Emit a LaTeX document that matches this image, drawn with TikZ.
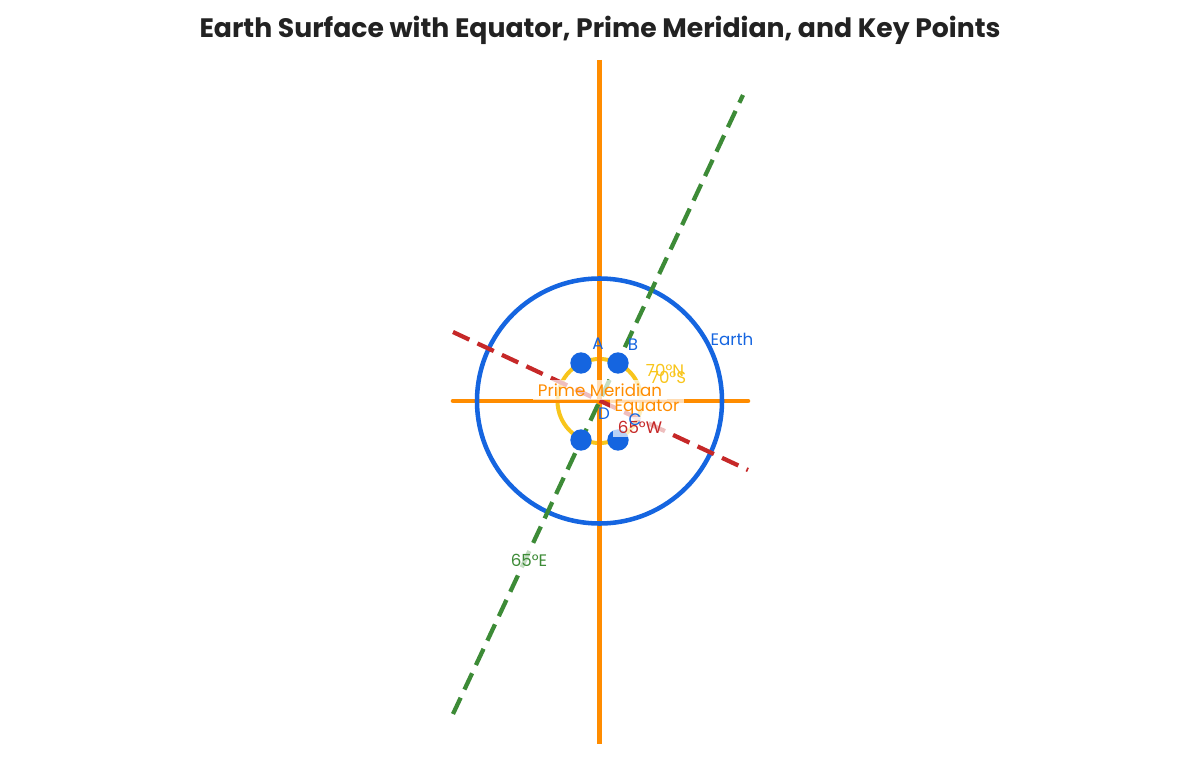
\documentclass[tikz,border=0pt]{standalone}
\usepackage{fontspec}
\setmainfont{Poppins}
\definecolor{orangec}{HTML}{FF8C00}
\definecolor{bluec}{HTML}{1565E0}
\definecolor{greenc}{HTML}{3D8B37}
\definecolor{redc}{HTML}{C62828}
\definecolor{yellowc}{HTML}{F8C51C}
\definecolor{titlec}{HTML}{222222}
\begin{document}
\begin{tikzpicture}[x=0.75pt,y=-0.75pt,
  lbl/.style={font=\fontsize{12.5}{14}\selectfont, inner sep=1pt},
  bglbl/.style={lbl, fill=white, fill opacity=0.7, text opacity=1, inner xsep=3.5pt, inner ysep=3pt},
  pt/.style={circle, fill=bluec, minimum size=16pt, inner sep=0pt},
  dashline/.style={line width=3.2pt, dash pattern=on 13.5pt off 6.75pt}]
\useasboundingbox (0,0) rectangle (1200,763);
\node[font=\bfseries\fontsize{20}{24}\selectfont, text=titlec] (title) at (600,30) {Earth Surface with Equator, Prime Meridian, and Key Points};
\coordinate (O) at (599.5,401);
\coordinate (mt) at (599.5,60);
\coordinate (mb) at (599.5,744);
\coordinate (el) at (453,401);
\coordinate (er) at (748,401);
\coordinate (gb) at (453,714);
\coordinate (gt) at (743,95);
\coordinate (rl) at (453,332);
\coordinate (rr) at (748,470);
% yellow circle
\draw[yellowc, line width=3pt] (O) circle[radius=42];
% meridian & equator
\draw[orangec, line width=3.4pt] (mt) -- (mb);
\draw[orangec, line width=3.4pt, line cap=round] (el) -- (er);
% earth
\draw[bluec, line width=3.4pt] (O) circle[radius=122.5];
% dashed lines
\draw[greenc, dashline] (gb) -- (gt);
\draw[redc, dashline] (rl) -- (rr);
% points
\node[pt] (A) at (581,363) {};
\node[pt] (B) at (618,363) {};
\node[pt] (D) at (581,440) {};
\node[pt] (C) at (618,440) {};
% labels with backgrounds
\node[bglbl, text=orangec] (pm) at (600,390) {Prime Meridian};
\node[bglbl, text=orangec] (eq) at (647,408) {Equator};
\node[bglbl, text=redc] (w65) at (640,427) {65°W};
\node[bglbl, text=greenc] (e65) at (529,560) {65°E};
% plain labels
\node[lbl, text=bluec] (lA) at (598,344) {A};
\node[lbl, text=bluec] (lB) at (633,345) {B};
\node[lbl, text=bluec] (lD) at (604,414) {D};
\node[lbl, text=bluec] (lC) at (635,420) {C};
\node[lbl, text=bluec] (earth) at (732,339) {Earth};
\node[lbl, text=yellowc] (n70) at (665,370) {70°N};
\node[lbl, text=yellowc] (s70) at (668,377) {70°S};
\end{tikzpicture}
\end{document}
